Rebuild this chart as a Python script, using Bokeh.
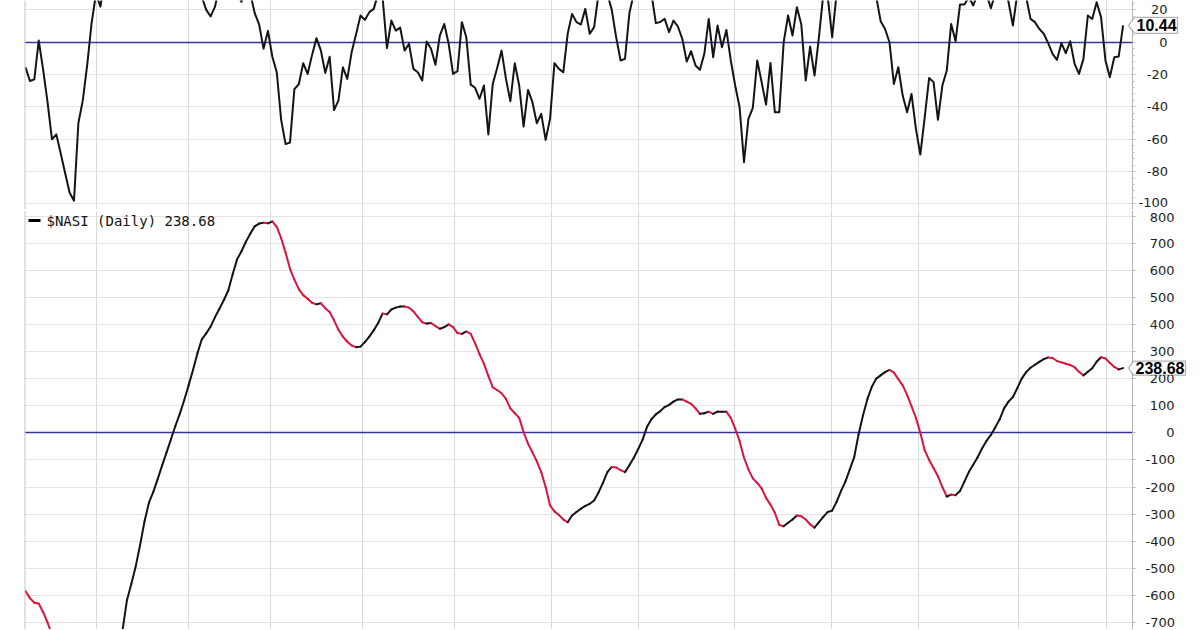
from bokeh.plotting import figure
from bokeh.layouts import column
from bokeh.models import (Range1d, FixedTicker, Span, Label, Grid,
                          ColumnDataSource, PolyAnnotation, BoxAnnotation)
from bokeh.embed import file_html
from bokeh.resources import INLINE

# ---------------- data ----------------
# McClellan-style oscillator, one value per trading day (day 0 .. 249)
osc_values = [
    -15.5, -24, -23, 1, -17, -37, -60, -57, -69, -81,
    -93, -98, -50, -36, -14, 12, 30, 22, 40, 48,
    55, 60, 52, 45, 58, 62, 50, 44, 38, 46,
    52, 40, 35, 42, 48, 38, 33, 36, 40, 30,
    28, 20, 16, 22, 35, 42, 38, 33, 30, 25,
    32, 30, 18, 11, -4, 7, -9, -18.6, -48, -63,
    -62, -29, -26, -13, -19.6, -8, 2.5, -5, -19, -9,
    -42, -36, -15.5, -22.7, -6, 5, 16.5, 13.8, 18.6, 20.6,
    30, 28, -3.7, 13.4, 7.2, 9, -5.2, -1, -16.5, -18.6,
    -23.7, 0.4, -4.1, -14, 4.1, 11.3, -1, -19.6, -17.9, 12.4,
    3.1, -26.2, -28.2, -35, -26.8, -57.1, -25.8, -16, -5.2, -22.7,
    -36.5, -13, -26.8, -52.2, -29.5, -37.1, -50.1, -44.3, -60.4, -47.4,
    -13, -16.5, -18.6, 5.2, 17.5, 12.4, 10.9, 20.6, 5.2, 9.3,
    30, 40, 30, 20, 3, -11.3, -10.3, 18, 30, 40,
    45, 38, 30, 11.8, 12.5, 14.4, 6.2, 13.4, 9.7, 2.1,
    -12, -5.6, -14.4, -17.1, -7.2, 14.4, -9.3, 10.3, -3.1, 7.6,
    -11.3, -26.8, -40.2, -74.2, -47.4, -40.6, -11.3, -24.7, -38.6, -12.8,
    -43.3, -43.3, 0, 16.5, 4.1, 21.6, 11, -23.7, -2.7, -20.6,
    3.1, 30, 28, 3.1, 30, 40, 50, 45, 55, 48,
    40, 45, 35, 28, 13, 8.2, 0, -25.8, -15.5, -33,
    -43.3, -32, -53.6, -69.5, -46.4, -22.1, -24.7, -48, -26.8, -17.5,
    11.3, 0.6, 23.3, 23.3, 28, 22.7, 30, 35, 30, 21,
    30, 40, 35, 25, 10.3, 30, 38, 28, 14.4, 12.4,
    8.2, 5.2, -0.6, -7.2, -10.9, -0.6, -6.8, 0.6, -13.4, -19.6,
    -10.3, 16.5, 14.4, 24.7, 15.5, -11.3, -21.6, -9.3, -8.9, 10.44,
]
osc_days = list(range(len(osc_values)))

# $NASI (Daily), one value per trading day (day 0 .. 249)
nasi_values = [
    -584, -610, -627, -630, -662, -700, -745, -780, -810, -840,
    -860, -875, -885, -890, -895, -900, -890, -880, -860, -830,
    -790, -760, -730, -619, -558, -493, -414, -327, -258, -218,
    -170, -120, -72, -24, 25, 70, 120, 175, 232, 293,
    345, 367, 392, 427, 458, 490, 525, 585, 640, 670,
    705, 735, 762, 772, 775, 773, 780, 760, 718, 665,
    605, 565, 530, 508, 495, 480, 474, 478, 460, 446,
    415, 380, 355, 336, 322, 316, 318, 335, 355, 378,
    405, 440, 437, 455, 462, 466, 466, 462, 448, 428,
    408, 403, 405, 394, 384, 390, 400, 390, 368, 365,
    374, 365, 330, 290, 255, 210, 168, 158, 146, 125,
    90, 72, 55, 2, -40, -72, -105, -145, -200, -268,
    -290, -303, -320, -330, -305, -292, -280, -270, -262, -250,
    -220, -185, -145, -126, -128, -138, -145, -120, -92, -60,
    -25, 22, 50, 68, 80, 95, 103, 115, 123, 123,
    115, 107, 90, 70, 72, 78, 70, 78, 78, 78,
    55, 15, -30, -92, -135, -168, -185, -205, -240, -265,
    -295, -340, -345, -332, -320, -305, -308, -320, -338, -350,
    -330, -310, -292, -287, -255, -215, -180, -135, -90, -5,
    65, 125, 170, 200, 212, 224, 232, 222, 198, 175,
    140, 98, 55, 0, -65, -100, -130, -160, -200, -235,
    -228, -230, -215, -180, -145, -118, -90, -58, -30, -8,
    20, 50, 90, 115, 132, 165, 200, 224, 240, 251,
    262, 272, 278, 276, 265, 260, 255, 250, 242, 225,
    212, 225, 238, 262, 279, 274, 258, 243, 234, 238.68,
]
nasi_days = list(range(len(nasi_values)))

month_starts = [16.1, 37.0, 55.6, 76.5, 97.3, 119.3, 139.1, 160.8, 182.8, 202.6, 225.3, 245.2]
osc_ticks = [20, 0, -20, -40, -60, -80, -100]
nasi_ticks = [800, 700, 600, 500, 400, 300, 200, 100, 0, -100, -200, -300, -400, -500, -600, -700]
osc_last = 10.44
nasi_last = 238.68
nasi_title = "$NASI (Daily) 238.68"

# ---------------- styling ----------------
W = 1196
LEFT = 24
PX_PER_DAY = 4.408
X_START = -1 / PX_PER_DAY
X_END = X_START + (W - LEFT) / PX_PER_DAY
AXIS_X = X_START + (1132 - LEFT) / PX_PER_DAY   # price-axis position (last bar + margin)
GRID_V = "#d9d9d9"
GRID_H = "#e4e4e4"
ZERO = "#34349c"
BORDER = "#c4c4c4"
AXIS_C = "#b4b4b4"
RED = "#dc143c"
BLACK = "#141414"
HAS_CB = "cross_bounds" in Grid.properties()

xr = Range1d(X_START, X_END)

FS = "\u2007"   # figure space (digit width)
PS = "\u2008"   # punctuation space (about a minus sign)


def padded(t):
    s = str(t)
    if not s.startswith("-"):
        s = PS + s
    return FS * (4 - len(s)) + s


def hlines(p, ticks, color, width):
    if HAS_CB:
        p.add_layout(Grid(dimension=1, ticker=FixedTicker(ticks=ticks),
                          cross_bounds=(X_START, AXIS_X),
                          grid_line_color=color, grid_line_width=width))
    else:
        p.segment(x0=[X_START] * len(ticks), x1=[AXIS_X] * len(ticks), y0=ticks, y1=ticks,
                  line_color=color, line_width=width)


def base_fig(height, yr, top_border, ticks, minor, standoff):
    p = figure(width=W, height=height, x_range=xr, y_range=yr,
               output_backend="svg", toolbar_location=None,
               x_axis_location=None, y_axis_location="right",
               min_border_left=LEFT, min_border_right=0,
               min_border_top=top_border, min_border_bottom=0)
    p.grid.visible = False
    p.outline_line_color = None
    p.background_fill_color = "white"
    p.border_fill_color = "white"
    ax = p.yaxis[0]
    ax.fixed_location = AXIS_X
    ax.ticker = FixedTicker(ticks=ticks, minor_ticks=minor)
    ax.major_label_overrides = {t: padded(t) for t in ticks}
    ax.major_label_text_font = "DejaVu Sans"
    ax.major_label_text_font_size = "13px"
    ax.major_label_text_color = "#1e1e1e"
    ax.major_label_standoff = standoff
    ax.axis_line_color = AXIS_C
    ax.major_tick_line_color = AXIS_C
    ax.minor_tick_line_color = "#c0c0c0"
    ax.major_tick_in = 0
    ax.major_tick_out = 3
    ax.minor_tick_in = 0
    ax.minor_tick_out = 2
    p.add_layout(Grid(dimension=0, ticker=FixedTicker(ticks=month_starts),
                      grid_line_color=GRID_V, grid_line_width=1))
    hlines(p, ticks, GRID_H, 1)
    hlines(p, [0], ZERO, 1.4)
    p.add_layout(Span(location=X_START, dimension="height", line_color=BORDER, line_width=2))
    return p


def tag(p, v, tip, left, right, half_h, txt):
    p.add_layout(PolyAnnotation(xs=[tip, left, right, right, left],
                                ys=[v, v + half_h, v + half_h, v - half_h, v - half_h],
                                xs_units="screen", ys_units="data",
                                fill_color="white", fill_alpha=1.0,
                                line_color="black", line_width=1.2))
    p.add_layout(Label(x=left + 2, y=v, x_units="screen", text=txt,
                       text_align="left", text_baseline="middle",
                       text_font="Liberation Sans", text_font_style="bold",
                       text_font_size="16px", text_color="black"))


# ---------------- top panel: oscillator ----------------
top_yr = Range1d(-103.46, 25.79)
top = base_fig(209, top_yr, 0, osc_ticks, list(range(-104, 28, 4)), 3)
hlines(top, [top_yr.start], BORDER, 2)
top.line(osc_days, osc_values, line_color=BLACK, line_width=2, line_join="round")
tag(top, osc_last, 1104, 1110, 1153, 4.95, f"{osc_last:.2f}")

# ---------------- bottom panel: $NASI ----------------
bot_yr = Range1d(-725.8, 820.3)
bot = base_fig(420, bot_yr, 1, nasi_ticks, [], 10)
hlines(bot, [bot_yr.end], BORDER, 2)

x0 = nasi_days[:-1]
x1 = nasi_days[1:]
y0 = nasi_values[:-1]
y1 = nasi_values[1:]
cols = [RED if b < a else BLACK for a, b in zip(y0, y1)]
seg_src = ColumnDataSource(dict(x0=x0, x1=x1, y0=y0, y1=y1, c=cols))
bot.segment(x0="x0", y0="y0", x1="x1", y1="y1", source=seg_src,
            line_color="c", line_width=2, line_cap="round")

tag(bot, nasi_last, 1104, 1109, 1161, 25.8, f"{nasi_last:.2f}")

# legend-like title
bot.add_layout(BoxAnnotation(left=4, right=16, left_units="screen", right_units="screen",
                             top=789, bottom=778, fill_color="black", fill_alpha=1.0,
                             line_color=None))
bot.add_layout(Label(x=22, y=783, x_units="screen", text=nasi_title,
                     text_align="left", text_baseline="middle",
                     text_font="DejaVu Sans Mono", text_font_size="14px",
                     text_color="#111111"))

layout = column(top, bot, spacing=0)
open("out.html", "w").write(file_html(layout, INLINE))
